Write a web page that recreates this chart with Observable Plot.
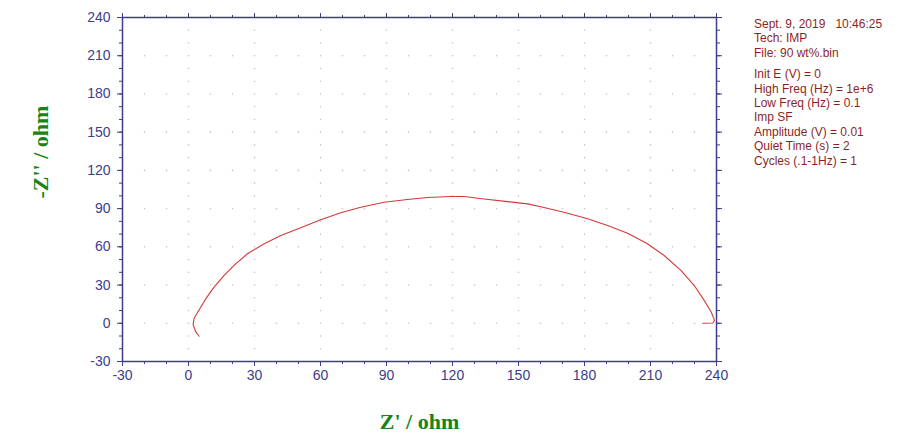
<!DOCTYPE html>
<html>
<head>
<meta charset="utf-8">
<script src="https://cdn.jsdelivr.net/npm/d3@7"></script>
<script src="https://cdn.jsdelivr.net/npm/@observablehq/plot@0.6"></script>
<style>
  html, body { margin: 0; padding: 0; background: #fff; }
  #wrap { position: relative; width: 900px; height: 444px; }
  #info { position: absolute; left: 754px; top: 17px; font: 12px "Liberation Sans", Arial, sans-serif; color: #8f1f1f; line-height: 14.4px; white-space: pre; }
  #info .gap { height: 7px; }
</style>
</head>
<body>
<div id="wrap"><div id="info"></div></div>
<script>
// Nyquist data (Z' and -Z'' in ohm)
const zReal = [4.8, 3.3, 2.1, 2.5, 4.1, 5.6, 7.9, 11.6, 16.2, 20.7, 26.8, 34.4, 42, 51, 60.1, 69.2, 78.3, 88.9, 99.5, 108.6, 119.2, 125.3, 134.4, 145, 154.1, 160.1, 170.7, 181.4, 190.5, 199.6, 208.6, 216.2, 223.8, 229.8, 234.4, 237.6, 239.1, 238.4, 233.8];
const zImag = [-10.2, -6.8, -1, 3.7, 8.4, 12.8, 19.3, 28.4, 37.6, 45.4, 54.6, 62.4, 68.9, 74.9, 81.2, 86.8, 91.1, 95, 97.1, 98.7, 99.5, 99.5, 97.6, 95.5, 93.7, 91.5, 87.2, 82, 76.7, 70.7, 62.4, 53.2, 41.5, 29.8, 18, 8.9, 2.3, 0.2, 0];

const majorTicks = [-30, 0, 30, 60, 90, 120, 150, 180, 210, 240];
const minorTicks = d3.range(-30, 241, 10);
const xLabel = "Z' / ohm";
const yLabel = "-Z'' / ohm";
const infoLines = ["Sept. 9, 2019   10:46:25", "Tech: IMP", "File: 90 wt%.bin", "", "Init E (V) = 0", "High Freq (Hz) = 1e+6", "Low Freq (Hz) = 0.1", "Imp SF", "Amplitude (V) = 0.01", "Quiet Time (s) = 2", "Cycles (.1-1Hz) = 1"];

const data = zReal.map((x, i) => ({x, y: zImag[i]}));

// dotted grid: dots every 10 units along lines every 30 units
const inner = d3.range(-20, 240, 10);
const lines30 = d3.range(0, 240, 30);
const gridDots = [];
for (const y of lines30) for (const x of inner) gridDots.push({x, y});
for (const x of lines30) for (const y of inner) if (y % 30 !== 0) gridDots.push({x, y});

const axisColor = "#3d3d8c";
const green = "#178417";
const labelFont = "'Liberation Serif', 'Times New Roman', serif";
const fmt = d => String(d);
const blank = () => "";

const chart = Plot.plot({
  width: 900,
  height: 444,
  marginLeft: 122,
  marginRight: 184,
  marginTop: 17,
  marginBottom: 83,
  style: {color: axisColor, fontFamily: "'Liberation Sans', Arial, sans-serif", background: "transparent"},
  x: {domain: [-30, 240]},
  y: {domain: [-30, 240]},
  marks: [
    Plot.dot(gridDots, {x: "x", y: "y", r: 0.8, fill: "#c4c4c4", stroke: null}),
    Plot.line(data, {x: "x", y: "y", stroke: "#d23a3a", strokeWidth: 1.1}),
    Plot.axisX({anchor: "bottom", ticks: majorTicks, tickSize: 5, tickPadding: 4, tickFormat: fmt, fontSize: 14, label: null}),
    Plot.axisX({anchor: "bottom", ticks: minorTicks, tickSize: 3, tickFormat: blank, label: null}),
    Plot.axisX({anchor: "top", ticks: majorTicks, tickSize: 5, tickFormat: blank, label: null}),
    Plot.axisX({anchor: "top", ticks: minorTicks, tickSize: 3, tickFormat: blank, label: null}),
    Plot.axisY({anchor: "left", ticks: majorTicks, tickSize: 5, tickPadding: 7, tickFormat: fmt, fontSize: 14, label: null}),
    Plot.axisY({anchor: "left", ticks: minorTicks, tickSize: 3, tickFormat: blank, label: null}),
    Plot.axisY({anchor: "right", ticks: majorTicks, tickSize: 5, tickFormat: blank, label: null}),
    Plot.axisY({anchor: "right", ticks: minorTicks, tickSize: 3, tickFormat: blank, label: null}),
    Plot.frame({stroke: axisColor, strokeWidth: 1.5}),
    Plot.text([xLabel], {frameAnchor: "bottom", dy: 60, text: d => d, fontSize: 22, fontWeight: "bold", fontFamily: labelFont, fill: green, lineAnchor: "middle"}),
    Plot.text([yLabel], {frameAnchor: "left", dx: -82, dy: 9, rotate: -90, text: d => d, fontSize: 22, fontWeight: "bold", fontFamily: labelFont, fill: green, lineAnchor: "middle"})
  ]
});

const wrap = document.getElementById("wrap");
wrap.insertBefore(chart, wrap.firstChild);
const info = document.getElementById("info");
for (const line of infoLines) {
  const div = document.createElement("div");
  if (line === "") div.className = "gap"; else div.textContent = line;
  info.appendChild(div);
}
</script>
</body>
</html>
